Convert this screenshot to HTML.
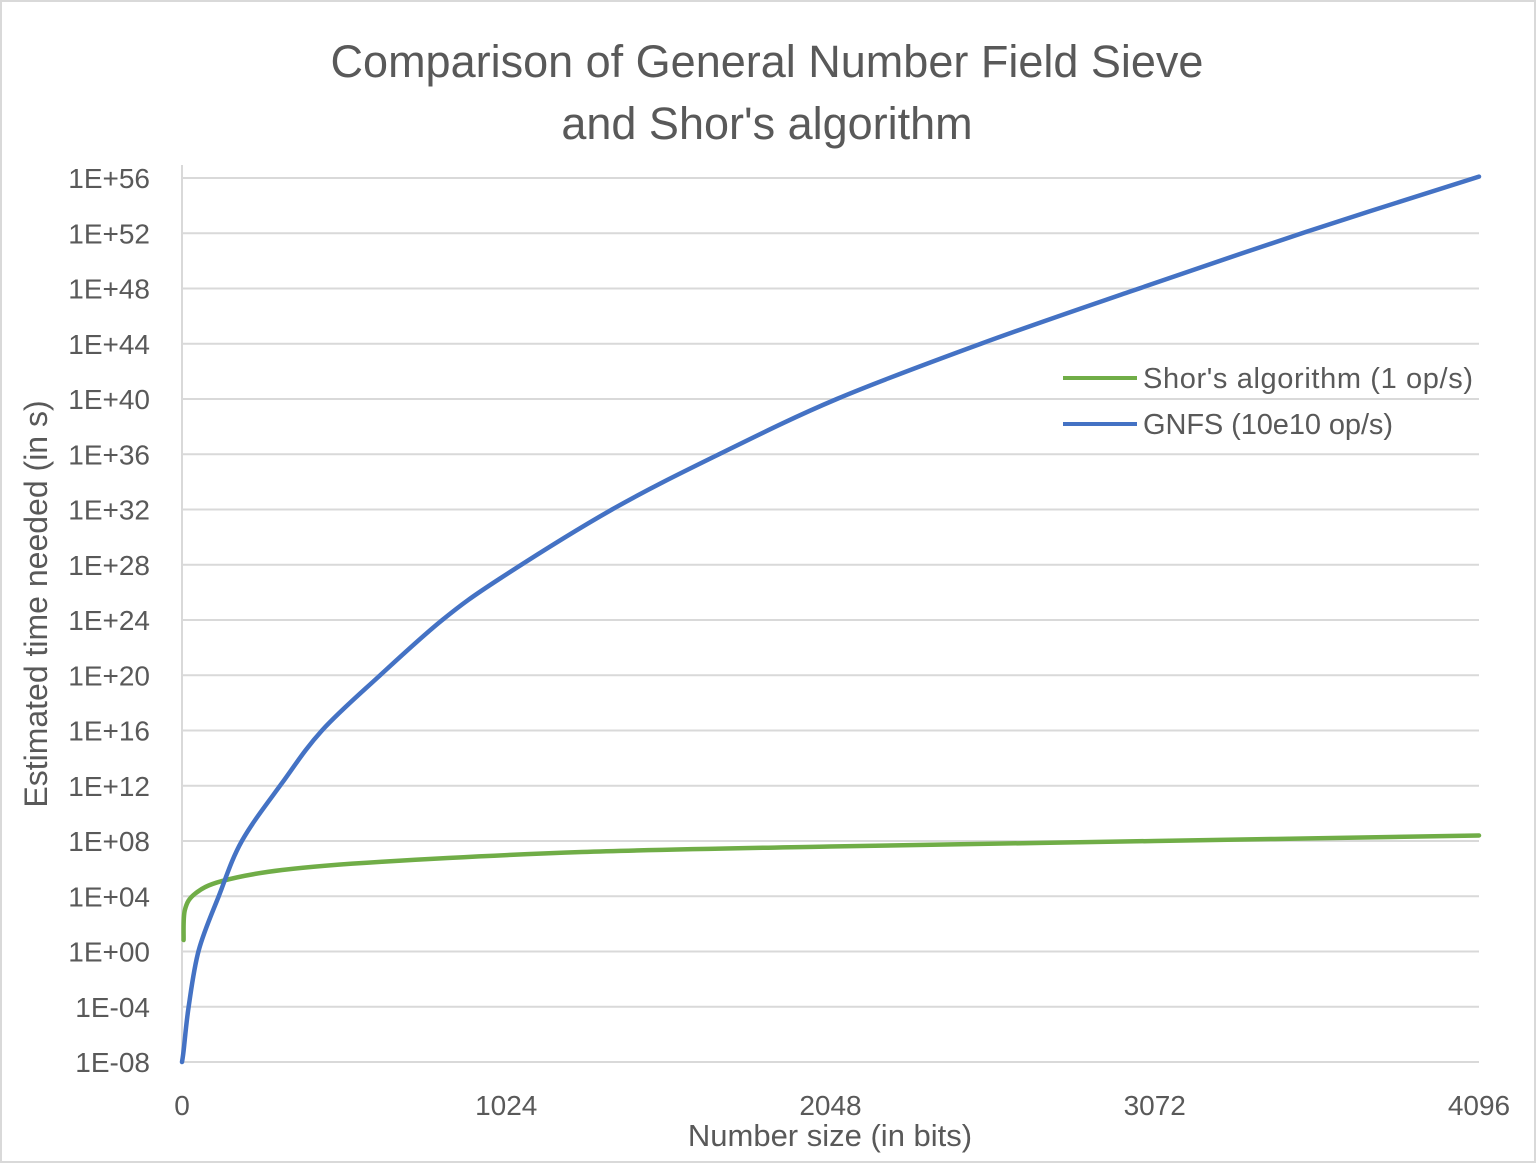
<!DOCTYPE html>
<html><head><meta charset="utf-8"><style>
html,body{margin:0;padding:0;background:#fff;}
svg{display:block;font-family:"Liberation Sans",sans-serif;}
</style></head><body>
<svg id="chart" width="1536" height="1163" viewBox="0 0 1536 1163" xmlns="http://www.w3.org/2000/svg">
<rect x="1" y="1" width="1534" height="1161" fill="#fff" stroke="#d9d9d9" stroke-width="2"/>
<text x="767" y="77" text-anchor="middle" font-size="45" fill="#595959">Comparison of General Number Field Sieve</text>
<text x="767" y="139" text-anchor="middle" font-size="45" fill="#595959">and Shor's algorithm</text>
<g id="grid"></g>
<g id="yticks"></g>
<g id="xticks"></g>
<g id="series"></g>
<text x="830" y="1146" text-anchor="middle" font-size="31" fill="#595959">Number size (in bits)</text>
<text transform="translate(47,604) rotate(-90)" text-anchor="middle" font-size="32" fill="#595959">Estimated time needed (in s)</text>
<g>
<line x1="1063" y1="378" x2="1137" y2="378" stroke="#70ad47" stroke-width="4"/>
<text x="1143" y="388" font-size="29" textLength="330" fill="#595959">Shor's algorithm (1 op/s)</text>
<line x1="1063" y1="424" x2="1137" y2="424" stroke="#4472c4" stroke-width="4"/>
<text x="1143" y="434" font-size="29" textLength="250" fill="#595959">GNFS (10e10 op/s)</text>
</g>
</svg>
<script>
const yTicks = [-8,-4,0,4,8,12,16,20,24,28,32,36,40,44,48,52,56];
const yTickLabels = ["1E-08","1E-04","1E+00","1E+04","1E+08","1E+12","1E+16","1E+20","1E+24","1E+28","1E+32","1E+36","1E+40","1E+44","1E+48","1E+52","1E+56"];
const xTicks = [0,1024,2048,3072,4096];
const gnfsBits = [0,5,21,53,116,189,316,442,621,822,1004,1358,1696,2068,2523,2997,3550,4096];
const gnfsLog = [-8,-7.2,-4.0,0.1,4.0,8.0,12.2,16.0,19.9,24.0,27.0,32.0,36.0,40.0,44.0,47.8,52.1,56.1];
const shorBits = [5,9,42,126,316,632,1263,2046,3072,4096];
const shorLog = [0.83,3.0,4.2,5.1,5.9,6.5,7.2,7.6,8.0,8.4];

const X0=182,X1=1479,Y0=1062,Y1=178;
const xs = b => X0 + b/4096*(X1-X0);
const ys = v => Y0 - (v+8)/64*(Y0-Y1);
const NS="http://www.w3.org/2000/svg";
function mk(tag, attrs, parent){const e=document.createElementNS(NS,tag);for(const k in attrs)e.setAttribute(k,attrs[k]);parent.appendChild(e);return e;}

const grid=document.getElementById('grid'), yt=document.getElementById('yticks'), xt=document.getElementById('xticks'), ser=document.getElementById('series');
yTicks.forEach((v,i)=>{
  const y=ys(v);
  const g=mk('line',{x1:X0,x2:X1,y1:y,y2:y,stroke:'#d9d9d9','stroke-width':2},grid);
  
  
  const t=mk('text',{x:150,y:y+10,'text-anchor':'end','font-size':28,fill:'#595959'},yt);
  t.textContent=yTickLabels[i];
  
  
});
const ax=mk('line',{x1:X0,x2:X0,y1:165,y2:Y0,stroke:'#d9d9d9','stroke-width':2},grid);


xTicks.forEach(b=>{
  const t=mk('text',{x:xs(b),y:1115,'text-anchor':'middle','font-size':28,fill:'#595959'},xt);
  t.textContent=String(b);
  
  
});
function smooth(pts){
  let d=`M${pts[0][0]},${pts[0][1]}`;
  for(let i=0;i<pts.length-1;i++){
    const p0=pts[Math.max(i-1,0)],p1=pts[i],p2=pts[i+1],p3=pts[Math.min(i+2,pts.length-1)];
    const c1=[p1[0]+(p2[0]-p0[0])/6,p1[1]+(p2[1]-p0[1])/6];
    const c2=[p2[0]-(p3[0]-p1[0])/6,p2[1]-(p3[1]-p1[1])/6];
    d+=` C${c1[0]},${c1[1]} ${c2[0]},${c2[1]} ${p2[0]},${p2[1]}`;
  }
  return d;
}
const shorPath=mk('path',{d:smooth(shorBits.map((b,i)=>[xs(b),ys(shorLog[i])])),fill:'none',stroke:'#70ad47','stroke-width':4.5,'stroke-linejoin':'round','stroke-linecap':'round'},ser);


const gnfsPath=mk('path',{d:smooth(gnfsBits.map((b,i)=>[xs(b),ys(gnfsLog[i])])),fill:'none',stroke:'#4472c4','stroke-width':4.5,'stroke-linejoin':'round','stroke-linecap':'round'},ser);


</script>
</body></html>
